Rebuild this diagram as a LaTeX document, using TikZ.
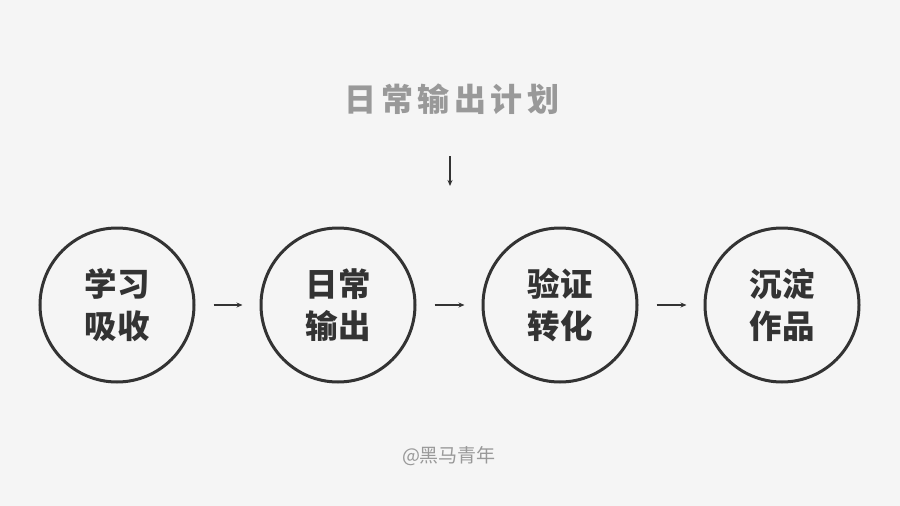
\documentclass[tikz,border=0pt]{standalone}
\usepackage{fontspec}
\newfontfamily\cjk{Noto Sans CJK SC}
\newfontfamily\cjktitle[LetterSpace=14]{Noto Sans CJK SC}
\newfontfamily\cjkfoot{Noto Sans CJK SC}
\definecolor{bg}{HTML}{F5F5F5}
\definecolor{ink}{HTML}{333333}
\definecolor{muted}{HTML}{999999}
\usetikzlibrary{arrows.meta}
\tikzset{
  stage/.style={circle, draw=ink, line width=3pt, minimum size=154pt, inner sep=0pt,
    text=ink, font=\cjk\bfseries\fontsize{32.5}{42}\selectfont, align=center},
  flow/.style={draw=ink, line width=1.3pt, -{Stealth[length=6pt,width=5pt]}}
}
\begin{document}
\begin{tikzpicture}[x=1pt,y=-1pt]
\fill[bg] (0,0) rectangle (900,506);
\useasboundingbox (0,0) rectangle (900,506);
\node[text=muted, font=\cjktitle\bfseries\fontsize{32}{36}\selectfont] (title) at (452,99) {日常输出计划};
\coordinate (a1) at (450,156);
\coordinate (a2) at (450,186);
\draw[flow] (a1) -- (a2);
\node[stage] (s1) at (117,305) {学习\\吸收};
\node[stage] (s2) at (338,305) {日常\\输出};
\node[stage] (s3) at (560,305) {验证\\转化};
\node[stage] (s4) at (782,305) {沉淀\\作品};
\draw[flow] ([xshift=18pt]s1.east) -- ([xshift=-17pt]s2.west);
\draw[flow] ([xshift=18pt]s2.east) -- ([xshift=-17pt]s3.west);
\draw[flow] ([xshift=18pt]s3.east) -- ([xshift=-17pt]s4.west);
\node[text=muted, font=\cjkfoot\fontsize{19}{22}\selectfont] (foot) at (449,456) {@黑马青年};
\end{tikzpicture}
\end{document}
